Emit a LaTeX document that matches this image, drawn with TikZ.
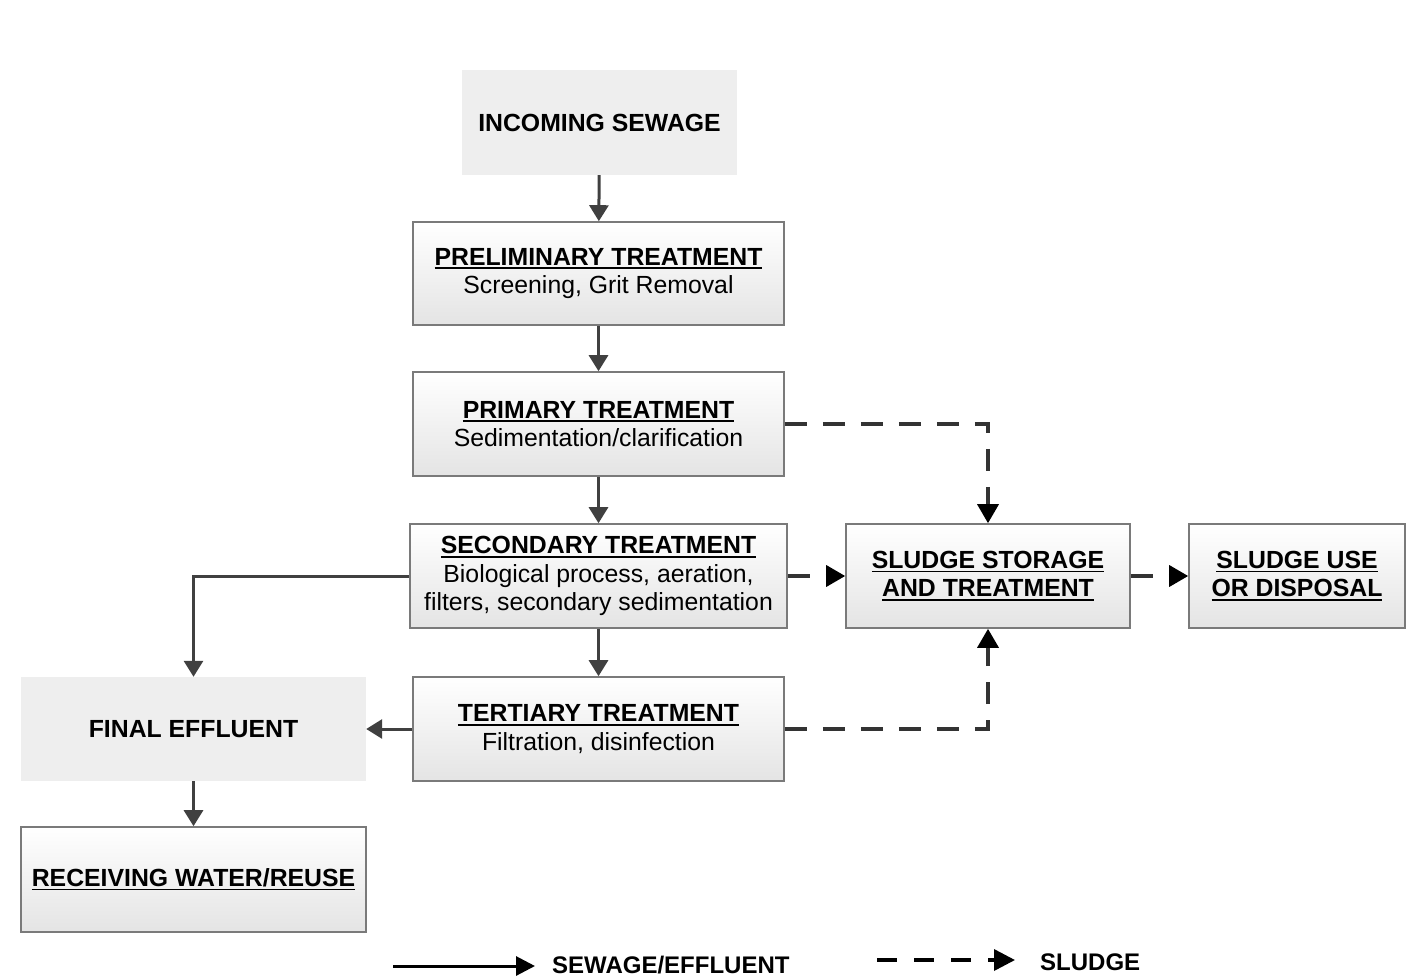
\documentclass[tikz,border=0pt]{standalone}
\usepackage{fontspec}
\setmainfont{Liberation Sans}
\usetikzlibrary{arrows.meta}
\definecolor{boxborder}{HTML}{7A7A7A}
\definecolor{boxfill}{HTML}{E4E4E4}
\definecolor{plainfill}{HTML}{EEEEEE}
\definecolor{flowcol}{HTML}{404040}
\definecolor{sludgecol}{HTML}{333333}
\newcommand\ttl[1]{\setbox0\hbox{\textbf{#1}}\leavevmode\rlap{\rule[-4pt]{\wd0}{1.8pt}}\box0}
\tikzset{
  procbox/.style={draw=boxborder, line width=1.6pt, top color=white, bottom color=boxfill,
    inner sep=0pt, align=center, font=\fontsize{24.8}{28.5}\selectfont},
  plainbox/.style={fill=plainfill, inner sep=0pt, align=center,
    font=\fontsize{24.8}{28.5}\selectfont\bfseries},
  flow/.style={draw=flowcol, line width=3pt, -{Triangle[length=16pt,width=19pt]}},
  sludgeflow/.style={draw=sludgecol, line width=3.5pt, dash pattern=on 22pt off 16pt,
    -{Triangle[length=19pt,width=21pt,color=black]}},
  legendtext/.style={font=\fontsize{24}{28}\selectfont\bfseries, inner sep=0pt, text depth=0pt}
}
\begin{document}
\begin{tikzpicture}[x=1pt,y=-1pt]
\useasboundingbox (0,0) rectangle (1424,977);
\node[plainbox, minimum width=275pt, minimum height=105pt] (inc) at (599.5,122.5) {INCOMING SEWAGE};
\node[procbox, minimum width=371pt, minimum height=103pt] (pre) at (598.5,273.5) {\ttl{PRELIMINARY TREATMENT}\\Screening, Grit Removal};
\node[procbox, minimum width=371pt, minimum height=104pt] (pri) at (598.5,424) {\ttl{PRIMARY TREATMENT}\\Sedimentation/clarification};
\node[procbox, minimum width=377pt, minimum height=104pt] (sec) at (598.5,576) {\ttl{SECONDARY TREATMENT}\\Biological process, aeration,\\filters, secondary sedimentation};
\node[procbox, minimum width=371pt, minimum height=104pt] (ter) at (598.5,729) {\ttl{TERTIARY TREATMENT}\\Filtration, disinfection};
\node[procbox, minimum width=284pt, minimum height=104pt] (sst) at (988,576) {\ttl{SLUDGE STORAGE}\\\ttl{AND TREATMENT}};
\node[procbox, minimum width=216pt, minimum height=104pt] (suse) at (1297,576) {\ttl{SLUDGE USE}\\\ttl{OR DISPOSAL}};
\node[plainbox, minimum width=345pt, minimum height=104pt] (fin) at (193.5,729) {FINAL EFFLUENT};
\node[procbox, minimum width=345pt, minimum height=105pt] (rec) at (193.5,879.5) {\ttl{RECEIVING WATER/REUSE}};

\draw[flow] (inc) -- (pre);
\draw[flow] (pre) -- (pri);
\draw[flow] (pri) -- (sec);
\draw[flow] (sec) -- (ter);
\draw[flow] (sec.west) -| (fin.north);
\draw[flow] (ter.west) -- (fin.east);
\draw[flow] (fin) -- (rec);

\draw[sludgeflow] (pri.east) -| (sst.north);
\draw[sludgeflow] (sec.east) -- (sst.west);
\draw[sludgeflow] (ter.east) -| (sst.south);
\draw[sludgeflow] (sst.east) -- (suse.west);

\coordinate (la) at (393,966);
\coordinate (lb) at (535,966);
\draw[line width=3pt, -{Triangle[length=19pt,width=19pt]}] (la) -- (lb);
\node[legendtext, anchor=base west] (lt1) at (552,973) {SEWAGE/EFFLUENT};
\coordinate (lc) at (877,960);
\coordinate (ld) at (1015,960);
\draw[line width=3.5pt, dash pattern=on 20pt off 17pt, -{Triangle[length=21pt,width=21pt]}] (lc) -- (ld);
\node[legendtext, anchor=base west] (lt2) at (1040,970) {SLUDGE};
\end{tikzpicture}
\end{document}
